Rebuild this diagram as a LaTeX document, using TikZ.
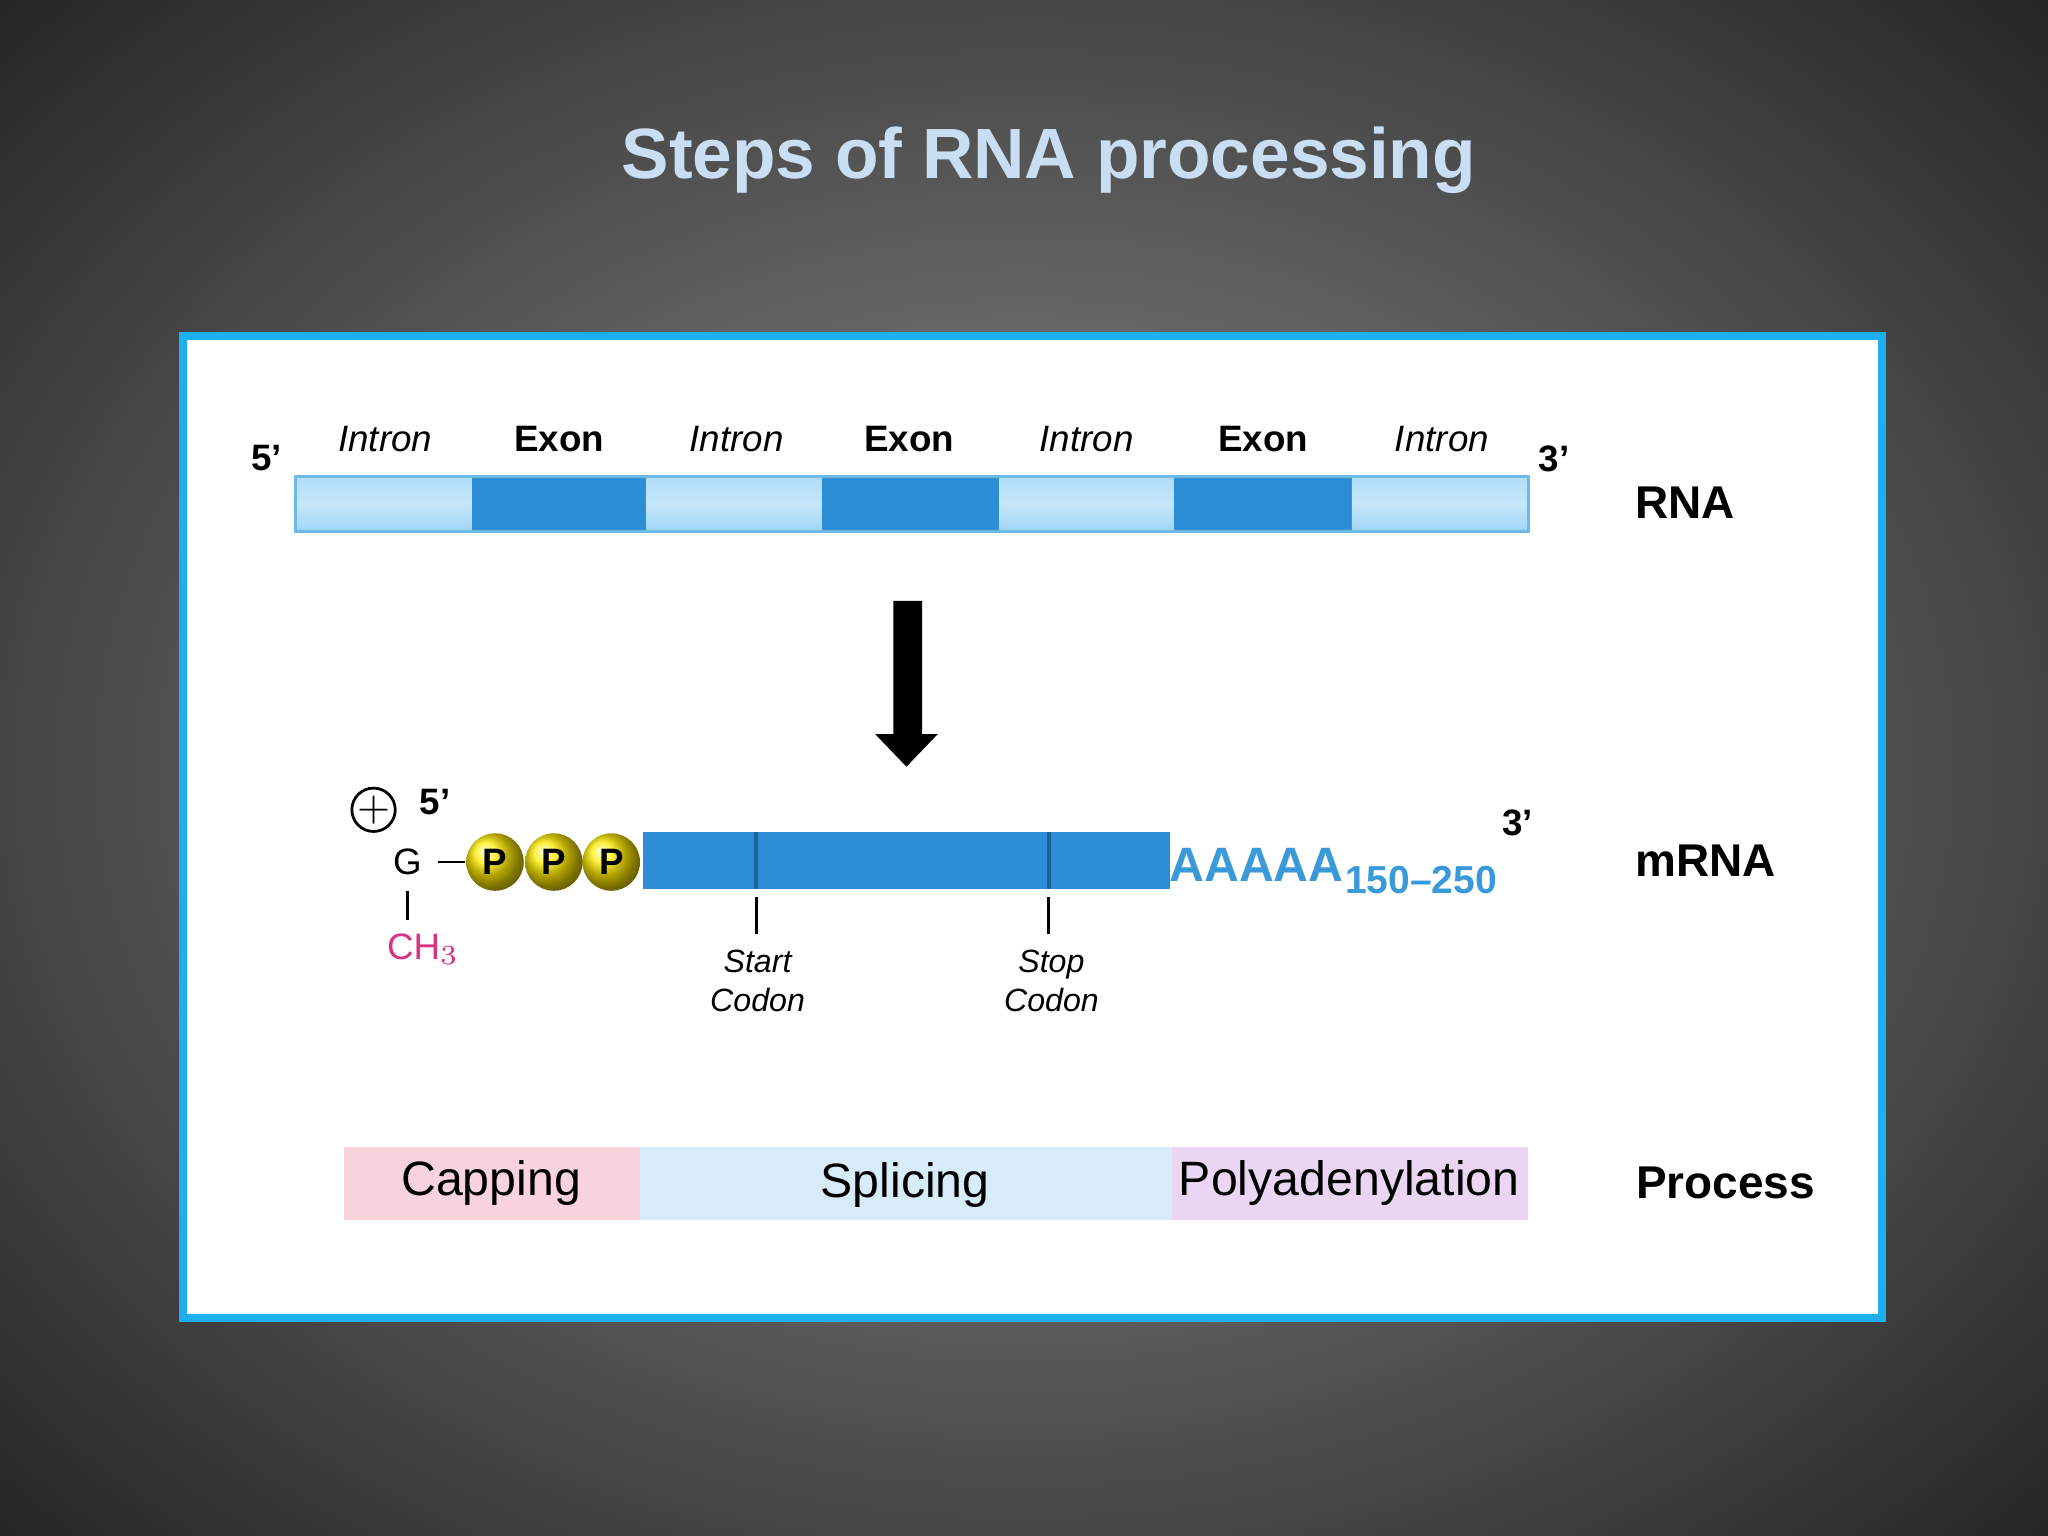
\documentclass[tikz,border=0pt]{standalone}
\usepackage{fontspec}
\setmainfont{Liberation Sans}
\usetikzlibrary{shadings}
\definecolor{intronc}{HTML}{9DD6F7}
\definecolor{exonc}{HTML}{2B8ED6}
\definecolor{edgec}{HTML}{6FB8E8}
\definecolor{framec}{HTML}{1DB0EE}
\definecolor{titlec}{HTML}{C9DDF3}
\definecolor{polyc}{HTML}{3A9AD9}
\definecolor{ch3c}{HTML}{D63384}
\definecolor{capc}{HTML}{F9D3DC}
\definecolor{splc}{HTML}{D8EBF8}
\definecolor{polc}{HTML}{EAD5F3}
\begin{document}
\begin{tikzpicture}[x=0.01cm,y=-0.01cm,
  lab/.style={font=\fontsize{8}{9}\selectfont},
  blab/.style={font=\bfseries\fontsize{8}{9}\selectfont},
  side/.style={font=\bfseries\fontsize{10}{12}\selectfont},
  intron/.style={draw=none,top color=intronc!80,bottom color=intronc,middle color=intronc!60},
  exon/.style={draw=none,fill=exonc},
  pball/.style={circle,minimum size=0.44cm,inner sep=0pt,ball color=yellow!85!orange,font=\bfseries\fontsize{8}{9}\selectfont},
  proc/.style={font=\fontsize{10.5}{12}\selectfont}]
\useasboundingbox (0,0) rectangle (1568,1176);
\shade[inner color=gray!55!black!60!white, outer color=black!85] (-300,-250) rectangle (1868,1426);
\node[text=titlec,font=\rmfamily\bfseries\fontsize{15.5}{18}\selectfont] (title) at (803,123) {Steps of RNA processing};
\draw[framec,line width=1.8pt,fill=white] (140,257) rectangle (1441,1009);
% RNA bar
\foreach \a/\b/\s in {226/361/intron,361/495/exon,495/629/intron,629/765/exon,765/899/intron,899/1035/exon,1035/1170/intron}
  \fill[\s] (\a,365) rectangle (\b,407);
\draw[edgec,line width=0.6pt] (226,365) rectangle (1170,407);
\foreach \x/\t/\n in {295/Intron/i1,564/Intron/i2,832/Intron/i3,1104/Intron/i4}
  \node[lab,font=\itshape\fontsize{8}{9}\selectfont] (\n) at (\x,336) {\t};
\foreach \x/\n in {428/e1,696/e2,967/e3}
  \node[blab] (\n) at (\x,336) {Exon};
\node[blab] (r5) at (204,351) {5’};
\node[blab] (r3) at (1190,351) {3’};
\node[side] (rna) at (1290,385) {RNA};
% arrow
\fill[black] (684,460) -- (706,460) -- (706,562) -- (718,562) -- (694,587) -- (670,562) -- (684,562) -- cycle;
% mRNA
\fill[exonc] (492,637) rectangle (896,681);
\draw[exonc!70!black,line width=0.8pt] (579,637) -- (579,681) (803,637) -- (803,681);
\coordinate (st1) at (579,687); \coordinate (st2) at (579,715);
\coordinate (sp1) at (803,687); \coordinate (sp2) at (803,715);
\draw[line width=0.6pt] (st1) -- (st2) (sp1) -- (sp2);
\node[font=\itshape\fontsize{7}{8.5}\selectfont,align=center] (start) at (580,751) {Start\\Codon};
\node[font=\itshape\fontsize{7}{8.5}\selectfont,align=center] (stop) at (805,751) {Stop\\Codon};
\node[pball] (p1) at (379,660) {P};
\node[pball] (p2) at (424,660) {P};
\node[pball] (p3) at (468,660) {P};
\node[lab] (g) at (312,660) {G};
\draw[line width=0.6pt] (g) -- (p1);
\node[text=ch3c,font=\fontsize{8}{9}\selectfont] (ch3) at (324,727) {CH$_3$};
\coordinate (gv1) at (312,682); \coordinate (gv2) at (312,704);
\draw[line width=0.6pt] (gv1) -- (gv2);
\node[circle,draw,line width=0.6pt,inner sep=0pt,minimum size=0.32cm,font=\fontsize{9}{9}\selectfont] (plus) at (286,620) {$+$};
\node[blab] (m5) at (333,614) {5’};
\node[blab] (m3) at (1162,630) {3’};
\node[text=polyc,font=\bfseries\fontsize{10.5}{12}\selectfont] (polyA) at (962,662) {AAAAA};
\node[text=polyc,font=\bfseries\fontsize{8.5}{10}\selectfont] (len) at (1088,674) {150–250};
\node[side] (mrna) at (1306,659) {mRNA};
% process
\fill[capc] (263,878) rectangle (490,934);
\fill[splc] (490,878) rectangle (897,934);
\fill[polc] (897,878) rectangle (1170,934);
\node[proc] (cap) at (376,906) {Capping};
\node[proc] (spl) at (693,907) {Splicing};
\node[proc] (pol) at (1033,906) {Polyadenylation};
\node[side] (process) at (1321,906) {Process};
\end{tikzpicture}
\end{document}
